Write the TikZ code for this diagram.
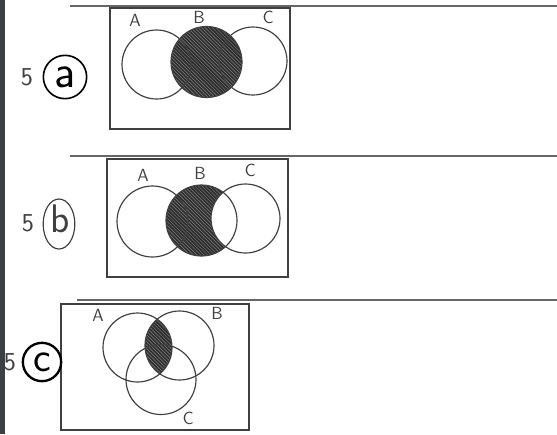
\documentclass[tikz,border=0pt]{standalone}
\usepackage{fontspec}
\usepackage{xcolor}
\usepackage{tikz}
\usetikzlibrary{patterns,shapes.geometric}
\definecolor{pen}{HTML}{404040}
\definecolor{rule}{HTML}{666666}
\definecolor{ink}{HTML}{2E2E2E}
\definecolor{edge}{HTML}{3C3F44}

\begin{document}
\begin{tikzpicture}[
  x=0.03cm, y=-0.03cm,
  line width=1pt, draw=pen,
  lbl/.style={font=\sffamily\fontsize{15}{17}\selectfont, text=pen, inner sep=1pt},
  num/.style={font=\sffamily\fontsize{22}{24}\selectfont, text=pen, inner sep=1pt},
  tag/.style={draw=black, line width=1.4pt, circle, minimum size=1.3cm, font=\sffamily\fontsize{40}{42}\selectfont, inner sep=0pt},
  shade/.style={fill=ink, postaction={pattern=north west lines, pattern color=gray}}
]
\useasboundingbox (0,0) rectangle (557,434);
\fill[edge] (0,0) rectangle (5,434);

% part a
\draw[rule] (70,6) -- (557,6);
\draw[pen] (110,8) rectangle (290,129);
\fill[shade] (206.5,62) circle (35.5);
\draw (156.5,64.5) circle (34.5);
\draw (206.5,62) circle (35.5);
\draw (253,61) circle (34);
\node[lbl] (la) at (135,20) {A};
\node[lbl] (lb) at (199,17) {B};
\node[lbl] (lc) at (268,17) {C};
\node[num] (na) at (27,77) {5};
\node[tag, text depth=0pt] (ta) at (65,77) {};
\node[font=\sffamily\fontsize{40}{42}\selectfont, inner sep=0pt] (tla) at (ta.center) {a};

% part b
\draw[rule] (70,156) -- (557,156);
\draw[pen] (107,159) rectangle (288,277);
\fill[shade] (201.5,220.5) circle (35.5);
\fill[white] (245.5,218.5) circle (34.5);
\draw (152.5,221.5) circle (35.5);
\draw (201.5,220.5) circle (35.5);
\draw (245.5,218.5) circle (34.5);
\node[lbl] (la2) at (143,175) {A};
\node[lbl] (lb2) at (200,173) {B};
\node[lbl] (lc2) at (250,170) {C};
\node[num] (nb) at (28,223) {5};
\node[tag, ellipse, minimum width=0.95cm, minimum height=1.5cm, line width=1pt, draw=pen] (tb) at (59,224) {};
\node[font=\sffamily\fontsize{34}{36}\selectfont, inner sep=0pt, text=pen] (tlb) at (60,219) {b};

% part c
\draw[rule] (77,300) -- (557,300);
\draw[pen] (61,304) rectangle (249,430);
\begin{scope}
  \clip (137.5,347.5) circle (34.5);
  \fill[shade] (179.5,345.5) circle (34.5);
\end{scope}
\draw (137.5,347.5) circle (34.5);
\draw (179.5,345.5) circle (34.5);
\draw (161,379.5) circle (35);
\node[lbl] (la3) at (98,315) {A};
\node[lbl] (lb3) at (217,313) {B};
\node[lbl] (lc3) at (188,418) {C};
\node[num] (nc) at (10,362) {5};
\node[tag, minimum size=1.15cm, line width=2pt] (tc) at (42,362) {};
\node[font=\sffamily\fontsize{36}{38}\selectfont, inner sep=0pt] (tlc) at (tc.center) {c};
\end{tikzpicture}
\end{document}
